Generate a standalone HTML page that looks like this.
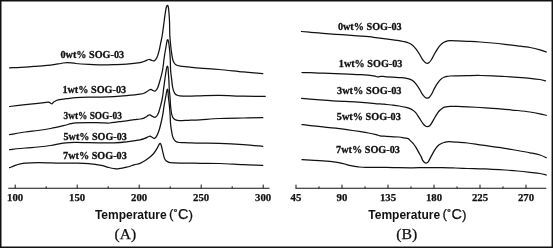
<!DOCTYPE html>
<html><head><meta charset="utf-8"><title>DSC curves</title>
<style>
html,body{margin:0;padding:0;background:#fff;}
body{width:553px;height:248px;overflow:hidden;}
svg{display:block;}
.tk{font-family:"Liberation Serif",serif;font-weight:bold;font-size:10.8px;text-anchor:middle;fill:#111;stroke:#111;stroke-width:0.25px;}
.lb{font-family:"Liberation Serif",serif;font-weight:bold;font-size:10.8px;text-anchor:start;fill:#111;stroke:#111;stroke-width:0.3px;}
.ti{font-family:"Liberation Sans",sans-serif;font-weight:bold;font-size:12px;text-anchor:start;fill:#111;}
.un{font-family:"Liberation Sans",sans-serif;font-size:14.4px;text-anchor:start;fill:#111;stroke:#111;stroke-width:0.25px;}
.cap{font-family:"Liberation Serif",serif;font-size:15px;text-anchor:middle;fill:#111;stroke:#111;stroke-width:0.25px;}
</style></head><body>
<svg width="553" height="248" viewBox="0 0 553 248">
<rect x="0" y="0" width="553" height="248" fill="#fff"/>
<rect x="0" y="0" width="553" height="1.5" fill="#111"/>
<rect x="0" y="0" width="1.5" height="248" fill="#111"/>
<rect x="0" y="246.5" width="553" height="1.5" fill="#111"/>
<rect x="551.55" y="0" width="1.45" height="248" fill="#111"/>
<path d="M8.3,188.2 H269.5" stroke="#111" stroke-width="1.1" fill="none"/>
<path d="M15.2,188.2 V184.6" stroke="#111" stroke-width="1" fill="none"/>
<path d="M77.2,188.2 V184.6" stroke="#111" stroke-width="1" fill="none"/>
<path d="M139.2,188.2 V184.6" stroke="#111" stroke-width="1" fill="none"/>
<path d="M201.2,188.2 V184.6" stroke="#111" stroke-width="1" fill="none"/>
<path d="M263.2,188.2 V184.6" stroke="#111" stroke-width="1" fill="none"/>
<path d="M46.2,188.2 V186.29999999999998" stroke="#111" stroke-width="1" fill="none"/>
<path d="M108.2,188.2 V186.29999999999998" stroke="#111" stroke-width="1" fill="none"/>
<path d="M170.2,188.2 V186.29999999999998" stroke="#111" stroke-width="1" fill="none"/>
<path d="M232.2,188.2 V186.29999999999998" stroke="#111" stroke-width="1" fill="none"/>
<text x="15.1" y="201" class="tk">100</text>
<text x="77.1" y="201" class="tk">150</text>
<text x="139.1" y="201" class="tk">200</text>
<text x="201.1" y="201" class="tk">250</text>
<text x="263.1" y="201" class="tk">300</text>
<path d="M295.5,188.3 H546.3" stroke="#111" stroke-width="1.1" fill="none"/>
<path d="M296,188.3 V184.70000000000002" stroke="#111" stroke-width="1" fill="none"/>
<path d="M342,188.3 V184.70000000000002" stroke="#111" stroke-width="1" fill="none"/>
<path d="M388,188.3 V184.70000000000002" stroke="#111" stroke-width="1" fill="none"/>
<path d="M434,188.3 V184.70000000000002" stroke="#111" stroke-width="1" fill="none"/>
<path d="M480,188.3 V184.70000000000002" stroke="#111" stroke-width="1" fill="none"/>
<path d="M526,188.3 V184.70000000000002" stroke="#111" stroke-width="1" fill="none"/>
<path d="M319,188.3 V186.4" stroke="#111" stroke-width="1" fill="none"/>
<path d="M365,188.3 V186.4" stroke="#111" stroke-width="1" fill="none"/>
<path d="M411,188.3 V186.4" stroke="#111" stroke-width="1" fill="none"/>
<path d="M457,188.3 V186.4" stroke="#111" stroke-width="1" fill="none"/>
<path d="M503,188.3 V186.4" stroke="#111" stroke-width="1" fill="none"/>
<text x="296" y="201.3" class="tk">45</text>
<text x="342" y="201.3" class="tk">90</text>
<text x="388" y="201.3" class="tk">135</text>
<text x="434" y="201.3" class="tk">180</text>
<text x="480" y="201.3" class="tk">225</text>
<text x="526" y="201.3" class="tk">270</text>
<text x="94.9" y="218.5" class="ti">Temperature</text><text y="218.1" class="un"><tspan x="168.9" style="font-size:13.5px">(</tspan><tspan x="173.7" y="218.9" style="font-size:12px">˚</tspan><tspan x="177.9" y="218.5">C</tspan><tspan x="188.4" style="font-size:13.5px">)</tspan></text>
<text x="368.3" y="218.5" class="ti">Temperature</text><text y="218.1" class="un"><tspan x="442.5" style="font-size:13.5px">(</tspan><tspan x="447.3" y="218.9" style="font-size:12px">˚</tspan><tspan x="451.5" y="218.5">C</tspan><tspan x="462.0" style="font-size:13.5px">)</tspan></text>
<text x="125.3" y="239.1" class="cap" textLength="21.6" lengthAdjust="spacingAndGlyphs">(A)</text>
<text x="406.8" y="239.1" class="cap" textLength="21" lengthAdjust="spacingAndGlyphs">(B)</text>
<text x="60.5" y="58.1" class="lb" textLength="63.6" lengthAdjust="spacingAndGlyphs">0wt% SOG-03</text>
<text x="62.4" y="93.2" class="lb" textLength="63.7" lengthAdjust="spacingAndGlyphs">1wt% SOG-03</text>
<text x="63.5" y="119.2" class="lb" textLength="58.3" lengthAdjust="spacingAndGlyphs">3wt% SOG-03</text>
<text x="63.5" y="139.8" class="lb" textLength="63.3" lengthAdjust="spacingAndGlyphs">5wt% SOG-03</text>
<text x="63.1" y="159.2" class="lb" textLength="63.7" lengthAdjust="spacingAndGlyphs">7wt% SOG-03</text>
<text x="337.9" y="30.3" class="lb" textLength="63.7" lengthAdjust="spacingAndGlyphs">0wt% SOG-03</text>
<text x="338.8" y="67.2" class="lb" textLength="63.6" lengthAdjust="spacingAndGlyphs">1wt% SOG-03</text>
<text x="337" y="94" class="lb" textLength="64.5" lengthAdjust="spacingAndGlyphs">3wt% SOG-03</text>
<text x="336.8" y="119.9" class="lb" textLength="64" lengthAdjust="spacingAndGlyphs">5wt% SOG-03</text>
<text x="336.1" y="152.9" class="lb" textLength="63.8" lengthAdjust="spacingAndGlyphs">7wt% SOG-03</text>
<path d="M9.6,67.8 C12.22,67.68 20.57,67.38 25.3,67.1 C30.03,66.82 33.78,66.43 38.0,66.1 C42.22,65.77 46.80,65.53 50.6,65.1 C54.40,64.67 58.05,63.93 60.8,63.5 C63.55,63.07 64.58,62.50 67.1,62.5 C69.62,62.50 72.32,63.20 75.9,63.5 C79.48,63.80 84.37,64.08 88.6,64.3 C92.83,64.52 97.08,64.75 101.3,64.8 C105.52,64.85 109.68,64.72 113.9,64.6 C118.12,64.48 122.25,64.43 126.6,64.1 C130.95,63.77 136.97,63.10 140.0,62.6 C143.03,62.10 143.32,61.62 144.8,61.1 C146.28,60.58 147.68,59.60 148.9,59.5 C150.12,59.40 151.17,60.28 152.1,60.5 C153.03,60.72 153.70,61.28 154.5,60.8 C155.30,60.32 156.15,59.22 156.9,57.6 C157.65,55.98 158.32,53.78 159.0,51.1 C159.68,48.42 160.45,44.18 161.0,41.5 C161.55,38.82 161.77,38.42 162.3,35.0 C162.83,31.58 163.62,25.22 164.2,21.0 C164.78,16.78 165.37,12.20 165.8,9.7 C166.23,7.20 166.53,6.73 166.8,6.0 C167.07,5.27 167.20,5.30 167.4,5.3 C167.60,5.30 167.78,5.27 168.0,6.0 C168.22,6.73 168.45,7.20 168.7,9.7 C168.95,12.20 169.32,16.78 169.5,21.0 C169.68,25.22 169.62,31.05 169.8,35.0 C169.98,38.95 170.27,41.47 170.6,44.7 C170.93,47.93 171.38,51.72 171.8,54.4 C172.22,57.08 172.48,59.13 173.1,60.8 C173.72,62.47 174.30,63.52 175.5,64.4 C176.70,65.28 178.15,65.68 180.3,66.1 C182.45,66.52 185.12,66.57 188.4,66.9 C191.68,67.23 194.87,67.67 200.0,68.1 C205.13,68.53 211.97,68.87 219.2,69.5 C226.43,70.13 236.13,71.22 243.4,71.9 C250.67,72.58 259.57,73.32 262.8,73.6" fill="none" stroke="#111" stroke-width="1.25" stroke-linejoin="round" stroke-linecap="round"/>
<path d="M9.6,106.5 C12.22,106.20 20.57,105.22 25.3,104.7 C30.03,104.18 34.20,103.82 38.0,103.4 C41.80,102.98 46.00,102.23 48.1,102.2 C50.20,102.17 49.97,102.92 50.6,103.2 C51.23,103.48 51.38,104.10 51.9,103.9 C52.42,103.70 53.13,102.47 53.7,102.0 C54.27,101.53 54.52,101.45 55.3,101.1 C56.08,100.75 56.40,100.32 58.4,99.9 C60.40,99.48 64.38,98.98 67.3,98.6 C70.22,98.22 72.35,97.83 75.9,97.6 C79.45,97.37 84.37,97.27 88.6,97.2 C92.83,97.13 97.08,97.28 101.3,97.2 C105.52,97.12 109.68,96.95 113.9,96.7 C118.12,96.45 122.25,96.12 126.6,95.7 C130.95,95.28 136.97,94.67 140.0,94.2 C143.03,93.73 143.32,93.57 144.8,92.9 C146.28,92.23 147.87,90.78 148.9,90.2 C149.93,89.62 150.33,89.35 151.0,89.4 C151.67,89.45 152.18,90.23 152.9,90.5 C153.62,90.77 154.50,91.47 155.3,91.0 C156.10,90.53 156.88,89.58 157.7,87.7 C158.52,85.82 159.38,82.65 160.2,79.7 C161.02,76.75 161.93,73.68 162.6,70.0 C163.27,66.32 163.67,61.28 164.2,57.6 C164.73,53.92 165.33,50.67 165.8,47.9 C166.27,45.13 166.68,42.40 167.0,41.0 C167.32,39.60 167.47,39.50 167.7,39.5 C167.93,39.50 168.12,39.60 168.4,41.0 C168.68,42.40 169.10,45.13 169.4,47.9 C169.70,50.67 170.00,53.92 170.2,57.6 C170.40,61.28 170.38,66.58 170.6,70.0 C170.82,73.42 171.15,75.15 171.5,78.1 C171.85,81.05 172.17,85.15 172.7,87.7 C173.23,90.25 173.83,92.10 174.7,93.4 C175.57,94.70 176.43,95.05 177.9,95.5 C179.37,95.95 181.22,96.00 183.5,96.1 C185.78,96.20 188.85,96.13 191.6,96.1 C194.35,96.07 195.40,96.02 200.0,95.9 C204.60,95.78 211.97,95.35 219.2,95.4 C226.43,95.45 235.73,96.03 243.4,96.2 C251.07,96.37 261.57,96.37 265.2,96.4" fill="none" stroke="#111" stroke-width="1.25" stroke-linejoin="round" stroke-linecap="round"/>
<path d="M9.6,134.6 C12.22,134.17 20.57,132.68 25.3,132.0 C30.03,131.32 33.78,131.08 38.0,130.5 C42.22,129.92 46.38,129.30 50.6,128.5 C54.82,127.70 59.92,126.50 63.3,125.7 C66.68,124.90 68.80,124.17 70.9,123.7 C73.00,123.23 72.95,123.10 75.9,122.9 C78.85,122.70 84.37,122.50 88.6,122.5 C92.83,122.50 97.73,122.82 101.3,122.9 C104.87,122.98 107.55,123.13 110.0,123.0 C112.45,122.87 113.98,122.37 116.0,122.1 C118.02,121.83 120.08,121.65 122.1,121.4 C124.12,121.15 126.08,120.88 128.1,120.6 C130.12,120.32 132.18,119.97 134.2,119.7 C136.22,119.43 138.58,119.27 140.2,119.0 C141.82,118.73 142.88,118.48 143.9,118.1 C144.92,117.72 145.60,117.15 146.3,116.7 C147.00,116.25 147.60,115.72 148.1,115.4 C148.60,115.08 148.90,114.85 149.3,114.8 C149.70,114.75 150.00,114.85 150.5,115.1 C151.00,115.35 151.70,115.95 152.3,116.3 C152.90,116.65 153.60,117.05 154.1,117.2 C154.60,117.35 154.78,117.48 155.3,117.2 C155.82,116.92 156.58,116.45 157.2,115.5 C157.82,114.55 158.40,113.28 159.0,111.5 C159.60,109.72 160.30,106.72 160.8,104.8 C161.30,102.88 161.65,101.68 162.0,100.0 C162.35,98.32 162.65,96.43 162.9,94.7 C163.15,92.97 163.20,91.95 163.5,89.6 C163.80,87.25 164.30,83.52 164.7,80.6 C165.10,77.68 165.57,74.27 165.9,72.1 C166.23,69.93 166.45,68.62 166.7,67.6 C166.95,66.58 167.18,66.00 167.4,66.0 C167.62,66.00 167.85,66.58 168.0,67.6 C168.15,68.62 168.15,69.93 168.3,72.1 C168.45,74.27 168.73,77.68 168.9,80.6 C169.07,83.52 169.12,86.85 169.3,89.6 C169.48,92.35 169.80,94.53 170.0,97.1 C170.20,99.67 170.33,102.88 170.5,105.0 C170.67,107.12 170.78,108.18 171.0,109.8 C171.22,111.42 171.45,113.35 171.8,114.7 C172.15,116.05 172.48,117.05 173.1,117.9 C173.72,118.75 174.43,119.35 175.5,119.8 C176.57,120.25 177.35,120.52 179.5,120.6 C181.65,120.68 184.98,120.43 188.4,120.3 C191.82,120.17 194.87,120.10 200.0,119.8 C205.13,119.50 211.97,118.80 219.2,118.5 C226.43,118.20 236.13,118.13 243.4,118.0 C250.67,117.87 259.57,117.75 262.8,117.7" fill="none" stroke="#111" stroke-width="1.25" stroke-linejoin="round" stroke-linecap="round"/>
<path d="M9.6,149.6 C12.22,149.33 20.57,148.43 25.3,148.0 C30.03,147.57 33.78,147.42 38.0,147.0 C42.22,146.58 46.38,146.15 50.6,145.5 C54.82,144.85 59.08,143.63 63.3,143.1 C67.52,142.57 71.68,142.37 75.9,142.3 C80.12,142.23 84.37,142.62 88.6,142.7 C92.83,142.78 97.08,142.78 101.3,142.8 C105.52,142.82 109.68,142.97 113.9,142.8 C118.12,142.63 122.25,142.30 126.6,141.8 C130.95,141.30 136.97,140.37 140.0,139.8 C143.03,139.23 143.45,138.90 144.8,138.4 C146.15,137.90 147.23,137.18 148.1,136.8 C148.97,136.42 149.33,136.02 150.0,136.1 C150.67,136.18 151.35,136.92 152.1,137.3 C152.85,137.68 153.70,138.68 154.5,138.4 C155.30,138.12 156.08,137.13 156.9,135.6 C157.72,134.07 158.58,131.88 159.4,129.2 C160.22,126.52 161.17,122.35 161.8,119.5 C162.43,116.65 162.82,114.42 163.2,112.1 C163.58,109.78 163.65,108.30 164.1,105.6 C164.55,102.90 165.45,98.37 165.9,95.9 C166.35,93.43 166.55,91.92 166.8,90.8 C167.05,89.68 167.20,89.20 167.4,89.2 C167.60,89.20 167.85,89.68 168.0,90.8 C168.15,91.92 168.07,93.43 168.3,95.9 C168.53,98.37 169.10,102.47 169.4,105.6 C169.70,108.73 169.90,111.57 170.1,114.7 C170.30,117.83 170.32,121.45 170.6,124.4 C170.88,127.35 171.38,130.17 171.8,132.4 C172.22,134.63 172.48,136.33 173.1,137.8 C173.72,139.27 174.43,140.42 175.5,141.2 C176.57,141.98 177.35,142.23 179.5,142.5 C181.65,142.77 184.98,142.68 188.4,142.8 C191.82,142.92 194.87,143.10 200.0,143.2 C205.13,143.30 211.97,143.17 219.2,143.4 C226.43,143.63 236.13,144.12 243.4,144.6 C250.67,145.08 259.57,146.02 262.8,146.3" fill="none" stroke="#111" stroke-width="1.25" stroke-linejoin="round" stroke-linecap="round"/>
<path d="M9.6,167.7 C10.53,167.32 13.42,166.03 15.2,165.4 C16.98,164.77 18.62,164.27 20.3,163.9 C21.98,163.53 22.35,163.40 25.3,163.2 C28.25,163.00 33.78,162.75 38.0,162.7 C42.22,162.65 46.38,162.82 50.6,162.9 C54.82,162.98 59.08,163.15 63.3,163.2 C67.52,163.25 71.68,163.12 75.9,163.2 C80.12,163.28 84.37,163.33 88.6,163.7 C92.83,164.07 97.92,164.77 101.3,165.4 C104.68,166.03 106.80,166.98 108.9,167.5 C111.00,168.02 112.22,168.30 113.9,168.5 C115.58,168.70 116.88,168.92 119.0,168.7 C121.12,168.48 124.07,167.83 126.6,167.2 C129.13,166.57 131.97,165.55 134.2,164.9 C136.43,164.25 138.23,163.98 140.0,163.3 C141.77,162.62 143.18,161.80 144.8,160.8 C146.42,159.80 148.22,158.52 149.7,157.3 C151.18,156.08 152.50,154.93 153.7,153.5 C154.90,152.07 156.02,150.17 156.9,148.7 C157.78,147.23 158.45,145.58 159.0,144.7 C159.55,143.82 159.82,143.27 160.2,143.4 C160.58,143.53 160.90,144.22 161.3,145.5 C161.70,146.78 162.12,149.08 162.6,151.1 C163.08,153.12 163.62,155.98 164.2,157.6 C164.78,159.22 165.30,160.00 166.1,160.8 C166.90,161.60 167.70,162.05 169.0,162.4 C170.30,162.75 171.75,162.78 173.9,162.9 C176.05,163.02 177.55,163.03 181.9,163.1 C186.25,163.17 193.78,163.23 200.0,163.3 C206.22,163.37 211.97,163.27 219.2,163.5 C226.43,163.73 236.13,164.38 243.4,164.7 C250.67,165.02 259.57,165.28 262.8,165.4" fill="none" stroke="#111" stroke-width="1.25" stroke-linejoin="round" stroke-linecap="round"/>
<path d="M301.5,31.5 C302.97,31.63 306.72,32.00 310.3,32.3 C313.88,32.60 318.78,32.97 323.0,33.3 C327.22,33.63 331.38,34.00 335.6,34.3 C339.82,34.60 344.08,34.80 348.3,35.1 C352.52,35.40 356.68,35.73 360.9,36.1 C365.12,36.47 369.37,36.83 373.6,37.3 C377.83,37.77 382.08,38.35 386.3,38.9 C390.52,39.45 395.95,40.15 398.9,40.6 C401.85,41.05 402.35,41.20 404.0,41.6 C405.65,42.00 407.38,42.40 408.8,43.0 C410.22,43.60 411.28,44.18 412.5,45.2 C413.72,46.22 414.90,47.55 416.1,49.1 C417.30,50.65 418.70,52.88 419.7,54.5 C420.70,56.12 421.28,57.57 422.1,58.8 C422.92,60.03 423.95,61.20 424.6,61.9 C425.25,62.60 425.57,62.77 426.0,63.0 C426.43,63.23 426.73,63.35 427.2,63.3 C427.67,63.25 428.13,63.25 428.8,62.7 C429.47,62.15 430.30,61.37 431.2,60.0 C432.10,58.63 433.30,56.12 434.2,54.5 C435.10,52.88 435.78,51.60 436.6,50.3 C437.42,49.00 438.28,47.75 439.1,46.7 C439.92,45.65 440.68,44.75 441.5,44.0 C442.32,43.25 443.08,42.68 444.0,42.2 C444.92,41.72 446.00,41.37 447.0,41.1 C448.00,40.83 448.25,40.65 450.0,40.6 C451.75,40.55 454.58,40.68 457.5,40.8 C460.42,40.92 463.75,41.10 467.5,41.3 C471.25,41.50 475.83,41.72 480.0,42.0 C484.17,42.28 488.33,42.62 492.5,43.0 C496.67,43.38 500.83,43.83 505.0,44.3 C509.17,44.77 513.33,45.27 517.5,45.8 C521.67,46.33 526.25,46.83 530.0,47.5 C533.75,48.17 537.28,49.05 540.0,49.8 C542.72,50.55 545.25,51.63 546.3,52.0" fill="none" stroke="#111" stroke-width="1.25" stroke-linejoin="round" stroke-linecap="round"/>
<path d="M302.0,72.5 C303.38,72.53 306.80,72.58 310.3,72.7 C313.80,72.82 318.78,73.03 323.0,73.2 C327.22,73.37 331.38,73.53 335.6,73.7 C339.82,73.87 344.08,74.03 348.3,74.2 C352.52,74.37 356.68,74.43 360.9,74.7 C365.12,74.97 370.85,75.45 373.6,75.8 C376.35,76.15 376.13,76.72 377.4,76.8 C378.67,76.88 379.72,76.30 381.2,76.3 C382.68,76.30 383.35,76.58 386.3,76.8 C389.25,77.02 395.95,77.42 398.9,77.6 C401.85,77.78 402.35,77.70 404.0,77.9 C405.65,78.10 407.38,78.37 408.8,78.8 C410.22,79.23 411.28,79.62 412.5,80.5 C413.72,81.38 414.90,82.60 416.1,84.1 C417.30,85.60 418.70,87.88 419.7,89.5 C420.70,91.12 421.28,92.57 422.1,93.8 C422.92,95.03 423.95,96.22 424.6,96.9 C425.25,97.58 425.57,97.68 426.0,97.9 C426.43,98.12 426.63,98.32 427.2,98.2 C427.77,98.08 428.63,97.93 429.4,97.2 C430.17,96.47 431.00,95.18 431.8,93.8 C432.60,92.42 433.40,90.42 434.2,88.9 C435.00,87.38 435.78,86.00 436.6,84.7 C437.42,83.40 438.28,82.08 439.1,81.1 C439.92,80.12 440.68,79.43 441.5,78.8 C442.32,78.17 443.08,77.70 444.0,77.3 C444.92,76.90 446.00,76.62 447.0,76.4 C448.00,76.18 448.25,76.10 450.0,76.0 C451.75,75.90 454.58,75.87 457.5,75.8 C460.42,75.73 463.75,75.65 467.5,75.6 C471.25,75.55 475.83,75.47 480.0,75.5 C484.17,75.53 488.33,75.63 492.5,75.8 C496.67,75.97 500.83,76.25 505.0,76.5 C509.17,76.75 513.33,77.00 517.5,77.3 C521.67,77.60 526.25,77.93 530.0,78.3 C533.75,78.67 537.42,79.08 540.0,79.5 C542.58,79.92 544.58,80.58 545.5,80.8" fill="none" stroke="#111" stroke-width="1.25" stroke-linejoin="round" stroke-linecap="round"/>
<path d="M301.6,98.3 C303.00,98.43 306.93,98.83 310.0,99.1 C313.07,99.37 316.17,99.62 320.0,99.9 C323.83,100.18 328.83,100.55 333.0,100.8 C337.17,101.05 341.33,101.23 345.0,101.4 C348.67,101.57 351.22,101.57 355.0,101.8 C358.78,102.03 364.12,102.45 367.7,102.8 C371.28,103.15 374.40,103.73 376.5,103.9 C378.60,104.07 378.62,103.70 380.3,103.8 C381.98,103.90 384.48,104.28 386.6,104.5 C388.72,104.72 390.88,104.85 393.0,105.1 C395.12,105.35 397.13,105.62 399.3,106.0 C401.47,106.38 404.22,106.97 406.0,107.4 C407.78,107.83 408.98,108.22 410.0,108.6 C411.02,108.98 411.15,109.02 412.1,109.7 C413.05,110.38 414.48,111.28 415.7,112.7 C416.92,114.12 418.18,116.38 419.4,118.2 C420.62,120.02 422.00,122.30 423.0,123.6 C424.00,124.90 424.70,125.48 425.4,126.0 C426.10,126.52 426.48,126.73 427.2,126.7 C427.92,126.67 428.88,126.52 429.7,125.8 C430.52,125.08 431.20,123.87 432.1,122.4 C433.00,120.93 434.00,118.82 435.1,117.0 C436.20,115.18 437.48,112.97 438.7,111.5 C439.92,110.03 441.18,108.97 442.4,108.2 C443.62,107.43 444.73,107.20 446.0,106.9 C447.27,106.60 448.08,106.48 450.0,106.4 C451.92,106.32 454.58,106.33 457.5,106.4 C460.42,106.47 463.75,106.62 467.5,106.8 C471.25,106.98 475.83,107.25 480.0,107.5 C484.17,107.75 488.33,108.00 492.5,108.3 C496.67,108.60 500.83,108.93 505.0,109.3 C509.17,109.67 513.33,110.05 517.5,110.5 C521.67,110.95 526.25,111.45 530.0,112.0 C533.75,112.55 537.28,113.25 540.0,113.8 C542.72,114.35 545.25,115.05 546.3,115.3" fill="none" stroke="#111" stroke-width="1.25" stroke-linejoin="round" stroke-linecap="round"/>
<path d="M302.0,124.6 C303.38,124.77 306.80,125.22 310.3,125.6 C313.80,125.98 318.78,126.47 323.0,126.9 C327.22,127.33 331.38,127.70 335.6,128.2 C339.82,128.70 344.08,129.32 348.3,129.9 C352.52,130.48 357.53,131.18 360.9,131.7 C364.27,132.22 365.97,132.50 368.5,133.0 C371.03,133.50 374.20,134.23 376.1,134.7 C378.00,135.17 378.20,135.53 379.9,135.8 C381.60,136.07 383.13,136.10 386.3,136.3 C389.47,136.50 395.95,136.73 398.9,137.0 C401.85,137.27 402.45,137.62 404.0,137.9 C405.55,138.18 407.20,138.28 408.2,138.7 C409.20,139.12 409.18,139.62 410.0,140.4 C410.82,141.18 412.08,142.18 413.1,143.4 C414.12,144.62 415.10,146.08 416.1,147.7 C417.10,149.32 418.20,151.48 419.1,153.1 C420.00,154.72 420.90,156.18 421.5,157.4 C422.10,158.62 422.18,159.53 422.7,160.4 C423.22,161.27 424.03,162.13 424.6,162.6 C425.17,163.07 425.50,163.33 426.1,163.2 C426.70,163.07 427.45,162.77 428.2,161.8 C428.95,160.83 429.70,159.05 430.6,157.4 C431.50,155.75 432.70,153.45 433.6,151.9 C434.50,150.35 435.18,149.20 436.0,148.1 C436.82,147.00 437.68,146.03 438.5,145.3 C439.32,144.57 439.98,144.17 440.9,143.7 C441.82,143.23 442.68,142.83 444.0,142.5 C445.32,142.17 446.55,141.75 448.8,141.7 C451.05,141.65 454.38,141.98 457.5,142.2 C460.62,142.42 463.75,142.57 467.5,143.0 C471.25,143.43 475.83,144.20 480.0,144.8 C484.17,145.40 489.37,146.17 492.5,146.6 C495.63,147.03 496.72,147.10 498.8,147.4 C500.88,147.70 501.88,147.88 505.0,148.4 C508.12,148.92 513.33,149.77 517.5,150.5 C521.67,151.23 526.25,152.05 530.0,152.8 C533.75,153.55 537.28,154.17 540.0,155.0 C542.72,155.83 545.25,157.33 546.3,157.8" fill="none" stroke="#111" stroke-width="1.25" stroke-linejoin="round" stroke-linecap="round"/>
<path d="M302.0,159.6 C303.38,159.68 306.80,159.90 310.3,160.1 C313.80,160.30 318.78,160.47 323.0,160.8 C327.22,161.13 332.23,161.63 335.6,162.1 C338.97,162.57 340.67,163.02 343.2,163.6 C345.73,164.18 348.27,165.05 350.8,165.6 C353.33,166.15 355.87,166.60 358.4,166.9 C360.93,167.20 361.35,167.32 366.0,167.4 C370.65,167.48 380.82,167.35 386.3,167.4 C391.78,167.45 394.53,167.63 398.9,167.7 C403.27,167.77 408.15,167.82 412.5,167.8 C416.85,167.78 420.83,167.63 425.0,167.6 C429.17,167.57 433.33,167.57 437.5,167.6 C441.67,167.63 447.08,167.73 450.0,167.8 C452.92,167.87 452.08,167.88 455.0,168.0 C457.92,168.12 463.33,168.37 467.5,168.5 C471.67,168.63 475.83,168.67 480.0,168.8 C484.17,168.93 488.33,169.10 492.5,169.3 C496.67,169.50 500.83,169.72 505.0,170.0 C509.17,170.28 513.33,170.62 517.5,171.0 C521.67,171.38 526.25,171.88 530.0,172.3 C533.75,172.72 537.28,173.05 540.0,173.5 C542.72,173.95 545.25,174.75 546.3,175.0" fill="none" stroke="#111" stroke-width="1.25" stroke-linejoin="round" stroke-linecap="round"/>
</svg>
</body></html>
